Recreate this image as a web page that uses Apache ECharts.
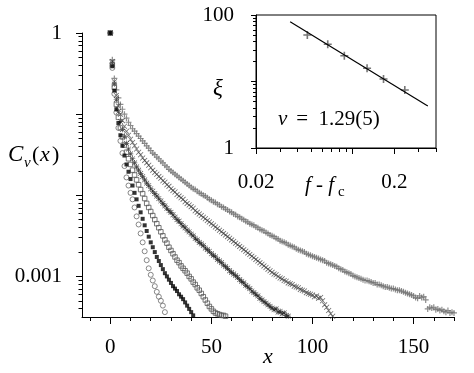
<!DOCTYPE html>
<html><head><meta charset="utf-8">
<script src="https://cdn.jsdelivr.net/npm/echarts@6/dist/echarts.min.js"></script>
<style>html,body{margin:0;padding:0;background:#fff}#c{width:474px;height:373px}</style>
</head><body><div id="c"></div>
<script>
// ---- main plot: log10 of C_v(x), index = x ----
const logCvCircle = [0,-0.43,-0.75,-0.98,-1.17,-1.33,-1.48,-1.64,-1.78,-1.88,-1.97,-2.05,-2.15,-2.26,-2.36,-2.47,-2.58,-2.69,-2.80,-2.90,-2.98,-3.05,-3.12,-3.19,-3.25,-3.30,-3.36,-3.44];
const logCvFilledSq = [0,-0.41,-0.71,-0.94,-1.11,-1.26,-1.39,-1.51,-1.62,-1.71,-1.80,-1.88,-1.97,-2.05,-2.13,-2.21,-2.29,-2.37,-2.44,-2.51,-2.58,-2.64,-2.70,-2.76,-2.81,-2.86,-2.91,-2.96,-3.00,-3.04,-3.08,-3.12,-3.15,-3.18,-3.22,-3.25,-3.28,-3.32,-3.36,-3.40,-3.44,-3.48];
const logCvOpenSq = [0,-0.39,-0.67,-0.88,-1.04,-1.17,-1.28,-1.38,-1.47,-1.55,-1.62,-1.69,-1.75,-1.81,-1.87,-1.93,-1.98,-2.04,-2.10,-2.15,-2.20,-2.25,-2.30,-2.35,-2.40,-2.45,-2.50,-2.55,-2.59,-2.64,-2.68,-2.72,-2.76,-2.80,-2.83,-2.87,-2.90,-2.93,-2.96,-3.00,-3.03,-3.07,-3.10,-3.14,-3.17,-3.21,-3.25,-3.29,-3.33,-3.37,-3.40,-3.43,-3.45,-3.46,-3.47,-3.48,-3.48,-3.49];
const logCvStar = [0,-0.37,-0.63,-0.82,-0.97,-1.09,-1.19,-1.28,-1.36,-1.43,-1.49,-1.55,-1.60,-1.65,-1.69,-1.73,-1.77,-1.81,-1.85,-1.88,-1.92,-1.95,-1.98,-2.01,-2.04,-2.07,-2.10,-2.13,-2.16,-2.19,-2.21,-2.24,-2.27,-2.30,-2.32,-2.35,-2.38,-2.40,-2.43,-2.45,-2.48,-2.50,-2.53,-2.55,-2.58,-2.60,-2.62,-2.65,-2.67,-2.69,-2.72,-2.74,-2.76,-2.79,-2.81,-2.83,-2.86,-2.88,-2.90,-2.93,-2.95,-2.97,-2.99,-3.01,-3.04,-3.06,-3.08,-3.11,-3.13,-3.15,-3.18,-3.20,-3.22,-3.24,-3.27,-3.29,-3.31,-3.33,-3.35,-3.37,-3.39,-3.41,-3.40,-3.44,-3.43,-3.46,-3.45,-3.48,-3.49];
const logCvCross = [0,-0.35,-0.60,-0.77,-0.90,-1.00,-1.08,-1.15,-1.21,-1.26,-1.31,-1.35,-1.39,-1.43,-1.47,-1.50,-1.54,-1.57,-1.60,-1.63,-1.66,-1.69,-1.72,-1.74,-1.77,-1.79,-1.82,-1.84,-1.87,-1.89,-1.92,-1.94,-1.96,-1.99,-2.01,-2.03,-2.05,-2.08,-2.10,-2.12,-2.14,-2.16,-2.19,-2.21,-2.23,-2.25,-2.27,-2.29,-2.31,-2.33,-2.35,-2.37,-2.39,-2.41,-2.43,-2.45,-2.47,-2.49,-2.51,-2.53,-2.55,-2.57,-2.59,-2.61,-2.63,-2.65,-2.67,-2.69,-2.71,-2.73,-2.75,-2.77,-2.79,-2.81,-2.83,-2.85,-2.87,-2.89,-2.91,-2.93,-2.95,-2.97,-2.98,-3.00,-3.02,-3.03,-3.05,-3.06,-3.08,-3.09,-3.10,-3.12,-3.13,-3.14,-3.16,-3.17,-3.18,-3.20,-3.21,-3.22,-3.23,-3.25,-3.24,-3.27,-3.26,-3.30,-3.35,-3.38,-3.42,-3.46,-3.49];
const logCvPlus = [0,-0.33,-0.56,-0.70,-0.80,-0.88,-0.94,-1.00,-1.05,-1.10,-1.14,-1.18,-1.21,-1.24,-1.27,-1.30,-1.33,-1.36,-1.39,-1.42,-1.45,-1.48,-1.50,-1.53,-1.55,-1.58,-1.60,-1.63,-1.65,-1.68,-1.70,-1.72,-1.74,-1.76,-1.78,-1.80,-1.82,-1.84,-1.86,-1.88,-1.90,-1.92,-1.93,-1.95,-1.97,-1.98,-2.00,-2.01,-2.03,-2.05,-2.06,-2.08,-2.09,-2.11,-2.12,-2.14,-2.15,-2.17,-2.18,-2.20,-2.21,-2.23,-2.24,-2.26,-2.27,-2.29,-2.30,-2.32,-2.33,-2.35,-2.36,-2.37,-2.39,-2.40,-2.42,-2.43,-2.44,-2.46,-2.47,-2.49,-2.50,-2.51,-2.53,-2.54,-2.56,-2.57,-2.58,-2.59,-2.61,-2.62,-2.63,-2.64,-2.66,-2.67,-2.68,-2.69,-2.70,-2.72,-2.73,-2.74,-2.75,-2.76,-2.77,-2.78,-2.79,-2.80,-2.81,-2.83,-2.84,-2.85,-2.86,-2.87,-2.88,-2.90,-2.91,-2.92,-2.94,-2.95,-2.96,-2.97,-2.99,-3.00,-3.01,-3.02,-3.03,-3.04,-3.05,-3.05,-3.06,-3.07,-3.08,-3.08,-3.10,-3.10,-3.11,-3.12,-3.13,-3.13,-3.14,-3.15,-3.15,-3.16,-3.17,-3.17,-3.18,-3.19,-3.20,-3.21,-3.22,-3.23,-3.24,-3.26,-3.27,-3.24,-3.26,-3.25,-3.29,-3.40,-3.38,-3.39,-3.38,-3.41,-3.40,-3.42,-3.41,-3.43,-3.44,-3.42,-3.45,-3.44,-3.45];

const mainXTicks = [0, 50, 100, 150];
const mainXMinorTicks = [-10, 10, 20, 30, 40, 60, 70, 80, 90, 110, 120, 130, 140, 160, 170];
const mainYTicks = [1, 0.1, 0.01, 0.001];
const mainYLabels = [1, 0.001];
const mainYMinorTicks = [0.9,0.8,0.7,0.6,0.5,0.4,0.3,0.2,0.09,0.08,0.07,0.06,0.05,0.04,0.03,0.02,0.009,0.008,0.007,0.006,0.005,0.004,0.003,0.002,0.0009,0.0008,0.0007,0.0006,0.0005,0.0004];

// ---- inset: xi vs f - fc ----
const insetF = [0.047, 0.066, 0.087, 0.127, 0.167, 0.238];
const insetXi = [50, 36.3, 24.4, 15.8, 10.9, 7.45];
const fitF = [0.0353, 0.349];
const fitXi = [79.3, 4.28];
const insetXTicks = [0.02, 0.1, 0.2];
const insetXLabels = [0.02, 0.2];
const insetXMinorTicks = [0.03,0.04,0.05,0.06,0.07,0.08,0.09,0.3,0.4];
const insetYTicks = [1, 10, 100];
const insetYLabels = [1, 100];
const insetYMinorTicks = [2,3,4,5,6,7,8,9,20,30,40,50,60,70,80,90];

const FONT = '"Liberation Serif", "DejaVu Serif", serif';
const toPts = arr => arr.map((lg, i) => [i, Math.pow(10, lg)]);

const PLUS = 'path://M4,0H6V4H10V6H6V10H4V6H0V4H4Z';
const CROSS = 'path://M1,0L5,4L9,0L10,1L6,5L10,9L9,10L5,6L1,10L0,9L4,5L0,1Z';
const STAR = 'path://M4.4,0H5.6V10H4.4Z M0,4.4H10V5.6H0Z M1,0.2L9.8,9L9,9.8L0.2,1Z M9,0.2L9.8,1L1,9.8L0.2,9Z';

function lbl(extra) { return Object.assign({fontFamily: FONT, fontSize: 21, color: '#000'}, extra); }
function lineOn() { return {show: true, onZero: false, lineStyle: {color: '#000', width: 1}}; }
function lineOff() { return {show: false, onZero: false}; }
function ticks(len, vals) { return {show: true, length: len, customValues: vals, lineStyle: {color: '#000', width: 1}}; }
const fmt = v => String(+(+v).toPrecision(3));

const MAIN_RECT = {left: 82, top: 33, width: 372, height: 284};
const INSET_RECT = {left: 256, top: 15, width: 180, height: 133};
const YMIN = Math.pow(10, -3.5);
const g = (rect, extra) => Object.assign({outerBoundsMode: 'none'}, extra || {}, rect);
// hidden carrier axis (log, so it never contains zero)
const hiddenLog = (gi) => ({gridIndex: gi, type: 'log', logBase: 10, min: 1, max: 10, show: false, axisLine: lineOff()});

const chart = echarts.init(document.getElementById('c'));
chart.setOption({
  animation: false,
  backgroundColor: '#fff',
  grid: [
    g(MAIN_RECT),   // 0: series + x axis with labels
    g(MAIN_RECT),   // 1: main y axis line, major ticks, labels
    g(MAIN_RECT),   // 2: main y minor ticks
    g(MAIN_RECT),   // 3: main x minor ticks
    g(INSET_RECT, {show: true, borderColor: '#000', borderWidth: 1, backgroundColor: '#fff'}), // 4: inset
    g(INSET_RECT)   // 5: inset minor ticks
  ],
  xAxis: [
    {gridIndex: 0, type: 'value', min: -14, max: 170, axisLine: lineOn(), splitLine: {show: false},
     axisTick: ticks(7, mainXTicks), axisLabel: lbl({margin: 20, customValues: mainXTicks, formatter: fmt})},
    hiddenLog(1),
    hiddenLog(2),
    {gridIndex: 3, type: 'value', min: -14, max: 170, axisLine: lineOff(), splitLine: {show: false},
     axisTick: ticks(4, mainXMinorTicks), axisLabel: {show: false}},
    {gridIndex: 4, type: 'log', logBase: 10, min: 0.02, max: 0.4, axisLine: lineOn(), splitLine: {show: false},
     axisTick: ticks(6, insetXTicks), axisLabel: lbl({margin: 24, customValues: insetXLabels, formatter: fmt})},
    {gridIndex: 5, type: 'log', logBase: 10, min: 0.02, max: 0.4, axisLine: lineOff(), splitLine: {show: false},
     axisTick: ticks(4, insetXMinorTicks), axisLabel: {show: false}}
  ],
  yAxis: [
    {gridIndex: 0, type: 'log', logBase: 10, min: YMIN, max: 1, show: false, axisLine: lineOff()},
    {gridIndex: 1, type: 'log', logBase: 10, min: YMIN, max: 1, axisLine: lineOn(), splitLine: {show: false},
     axisTick: ticks(6, mainYTicks), axisLabel: lbl({margin: 20, customValues: mainYLabels, formatter: fmt})},
    {gridIndex: 2, type: 'log', logBase: 10, min: YMIN, max: 1, axisLine: lineOff(), splitLine: {show: false},
     axisTick: ticks(3.5, mainYMinorTicks), axisLabel: {show: false}},
    {gridIndex: 3, type: 'log', logBase: 10, min: YMIN, max: 1, show: false, axisLine: lineOff()},
    {gridIndex: 4, type: 'log', logBase: 10, min: 1, max: 100, axisLine: lineOn(), splitLine: {show: false},
     axisTick: ticks(5, insetYTicks), axisLabel: lbl({margin: 22, customValues: insetYLabels, formatter: fmt})},
    {gridIndex: 5, type: 'log', logBase: 10, min: 1, max: 100, axisLine: lineOff(), splitLine: {show: false},
     axisTick: ticks(3, insetYMinorTicks), axisLabel: {show: false}}
  ],
  series: [
    {type: 'scatter', xAxisIndex: 0, yAxisIndex: 0, data: toPts(logCvPlus), symbol: PLUS, symbolSize: 6,
     itemStyle: {color: '#707070'}},
    {type: 'scatter', xAxisIndex: 0, yAxisIndex: 0, data: toPts(logCvCross), symbol: CROSS, symbolSize: 5.5,
     itemStyle: {color: '#404040'}},
    {type: 'scatter', xAxisIndex: 0, yAxisIndex: 0, data: toPts(logCvStar), symbol: STAR, symbolSize: 5.5,
     itemStyle: {color: '#1e1e1e'}},
    {type: 'scatter', xAxisIndex: 0, yAxisIndex: 0, data: toPts(logCvOpenSq), symbol: 'rect', symbolSize: 4.5,
     itemStyle: {color: 'rgba(0,0,0,0)', borderColor: '#555', borderWidth: 1}},
    {type: 'scatter', xAxisIndex: 0, yAxisIndex: 0, data: toPts(logCvCircle), symbol: 'circle', symbolSize: 5,
     itemStyle: {color: 'rgba(0,0,0,0)', borderColor: '#6a6a6a', borderWidth: 1}},
    {type: 'scatter', xAxisIndex: 0, yAxisIndex: 0, data: toPts(logCvFilledSq), symbol: 'rect', symbolSize: 4,
     itemStyle: {color: '#000'}},
    {type: 'scatter', xAxisIndex: 4, yAxisIndex: 4, data: insetF.map((f, i) => [f, insetXi[i]]), symbol: PLUS, symbolSize: 8,
     itemStyle: {color: '#555'},
     markLine: {silent: true, symbol: ['none', 'none'], label: {show: false},
       lineStyle: {color: '#000', width: 1.2, type: 'solid'},
       data: [[{coord: [fitF[0], fitXi[0]]}, {coord: [fitF[1], fitXi[1]]}]]}}
  ],
  graphic: [
    {type: 'text', x: 8, y: 155, style: {text: 'C', font: 'italic 23px ' + FONT, fill: '#000', align: 'left', verticalAlign: 'middle'}},
    {type: 'text', x: 24, y: 163, style: {text: 'v', font: 'italic 15px ' + FONT, fill: '#000', align: 'left', verticalAlign: 'middle'}},
    {type: 'text', x: 32, y: 155, style: {text: '(', font: '22px ' + FONT, fill: '#000', align: 'left', verticalAlign: 'middle'}},
    {type: 'text', x: 40, y: 155, style: {text: 'x', font: 'italic 22px ' + FONT, fill: '#000', align: 'left', verticalAlign: 'middle'}},
    {type: 'text', x: 52, y: 155, style: {text: ')', font: '22px ' + FONT, fill: '#000', align: 'left', verticalAlign: 'middle'}},
    {type: 'text', x: 268, y: 357, style: {text: 'x', font: 'italic 22px ' + FONT, fill: '#000', align: 'center', verticalAlign: 'middle'}},
    {type: 'text', x: 218, y: 89, style: {text: 'ξ', font: 'italic 23px ' + FONT, fill: '#000', align: 'center', verticalAlign: 'middle'}},
    {type: 'text', x: 305, y: 185, style: {text: 'f - f', font: 'italic 21px ' + FONT, fill: '#000', align: 'left', verticalAlign: 'middle'}},
    {type: 'text', x: 338, y: 192, style: {text: 'c', font: '15px ' + FONT, fill: '#000', align: 'left', verticalAlign: 'middle'}},
    {type: 'text', x: 278, y: 119, style: {text: 'ν', font: 'italic 21px ' + FONT, fill: '#000', align: 'left', verticalAlign: 'middle'}},
    {type: 'text', x: 291, y: 119, style: {text: ' =  1.29(5)', font: '21px ' + FONT, fill: '#000', align: 'left', verticalAlign: 'middle'}}
  ]
});
</script></body></html>
